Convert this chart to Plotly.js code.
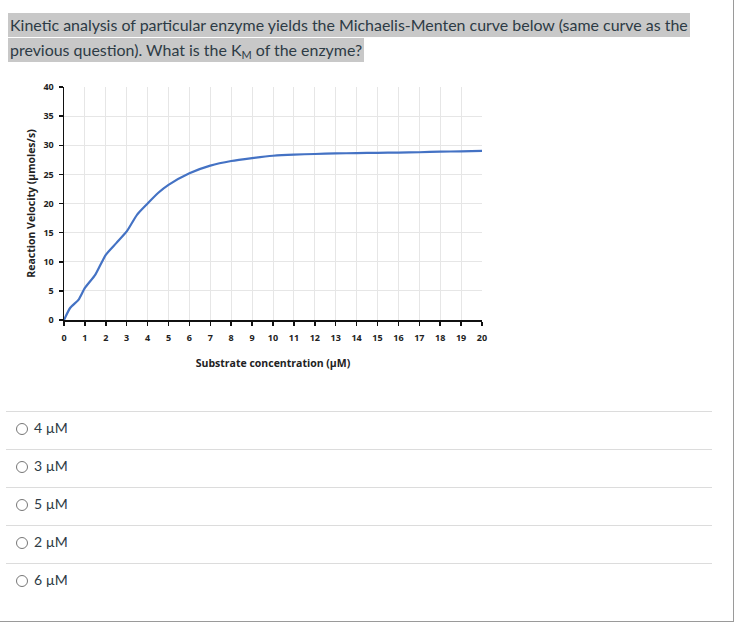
<!DOCTYPE html>
<html>
<head>
<meta charset="utf-8">
<script src="https://cdn.plot.ly/plotly-3.0.1.min.js"></script>
<style>
  html, body { margin: 0; padding: 0; background: #fff; }
  body { width: 756px; height: 624px; position: relative; overflow: hidden; font-family: Lato, "Open Sans", sans-serif; }
  #frame { position: absolute; left: 0; top: 0; width: 733px; height: 621px; border-right: 1px solid #9a9a9a; border-bottom: 1px solid #9a9a9a; }
  #question { position: absolute; left: 8px; top: 12px; font-size: 15.95px; line-height: 25px; color: #2d3b45; white-space: nowrap; }
  #question span.hl { background: #c8c8c8; padding: 2px 2px 3px 2px; }
  #question sub { font-size: 11px; vertical-align: -3px; line-height: 0; }
  #chart { position: absolute; left: 0; top: 75px; width: 500px; height: 310px; }
  .opt { position: absolute; left: 6px; width: 706px; height: 37px; border-top: 1px solid #dcdcdc; font-size: 14px; color: #2d3b45; }
  .opt .radio { position: absolute; left: 10px; top: 11px; width: 12px; height: 12px; border: 1px solid #777; border-radius: 50%; box-sizing: border-box; }
  .opt .lbl { position: absolute; left: 28px; top: 7px; }
</style>
</head>
<body>
<div id="frame"></div>
<div id="question"><span class="hl">Kinetic analysis of particular enzyme yields the Michaelis-Menten curve below (same curve as the</span><br><span class="hl">previous question). What is the K<sub>M</sub> of the enzyme?</span></div>
<div id="chart"></div>
<div id="options"></div>
<script>
// substrate concentration (µM) and reaction velocity (µmoles/s)
var substrate = [0, 0.3, 0.7, 1, 1.5, 2, 2.5, 3, 3.5, 4, 4.5, 5, 6, 7, 8, 9, 10, 11, 12, 13, 14, 15, 16, 17, 18, 19, 20];
var velocity = [0, 2.1, 3.5, 5.5, 7.8, 11.2, 13.2, 15.2, 18.1, 20.0, 21.8, 23.2, 25.2, 26.5, 27.3, 27.8, 28.2, 28.4, 28.5, 28.6, 28.65, 28.7, 28.75, 28.8, 28.9, 28.95, 29.05];

var answers = ['4 µM', '3 µM', '5 µM', '2 µM', '6 µM'];

var tickFont = { family: 'Open Sans', size: 9, color: '#222', weight: 'bold' };
var titleFont = { family: 'Open Sans', size: 10.5, color: '#222' };

var data = [{
  x: substrate,
  y: velocity,
  type: 'scatter',
  mode: 'lines',
  line: { color: '#4472c4', width: 2.2, shape: 'spline', smoothing: 0.6 },
  hoverinfo: 'skip'
}];

var layout = {
  width: 500,
  height: 310,
  margin: { l: 64, r: 18, t: 12, b: 65, pad: 0 },
  paper_bgcolor: 'rgba(0,0,0,0)',
  plot_bgcolor: '#fff',
  showlegend: false,
  xaxis: {
    range: [0, 20],
    tickvals: [0, 1, 2, 3, 4, 5, 6, 7, 8, 9, 10, 11, 12, 13, 14, 15, 16, 17, 18, 19, 20],
    ticks: 'outside',
    ticklen: 4,
    tickwidth: 1.5,
    tickcolor: '#111',
    ticklabelstandoff: 5,
    showline: true,
    linecolor: '#111',
    linewidth: 1.5,
    showgrid: true,
    gridcolor: '#e6e6e6',
    zeroline: false,
    tickfont: tickFont,
    title: { text: '<b>Substrate concentration (µM)</b>', font: titleFont, standoff: 16 }
  },
  yaxis: {
    range: [0, 40],
    dtick: 5,
    ticks: 'outside',
    ticklen: 4,
    tickwidth: 1.5,
    tickcolor: '#111',
    ticklabelstandoff: 3,
    showline: true,
    linecolor: '#111',
    linewidth: 1.5,
    showgrid: true,
    gridcolor: '#e6e6e6',
    zeroline: false,
    tickfont: tickFont,
    title: { text: '<b>Reaction Velocity (µmoles/s)</b>', font: titleFont, standoff: 5 }
  }
};

Plotly.newPlot('chart', data, layout, { displayModeBar: false, staticPlot: true });

var opts = document.getElementById('options');
answers.forEach(function (a, i) {
  var d = document.createElement('div');
  d.className = 'opt';
  d.style.top = (411 + i * 38) + 'px';
  d.innerHTML = '<div class="radio"></div><div class="lbl">' + a + '</div>';
  opts.appendChild(d);
});
</script>
</body>
</html>
